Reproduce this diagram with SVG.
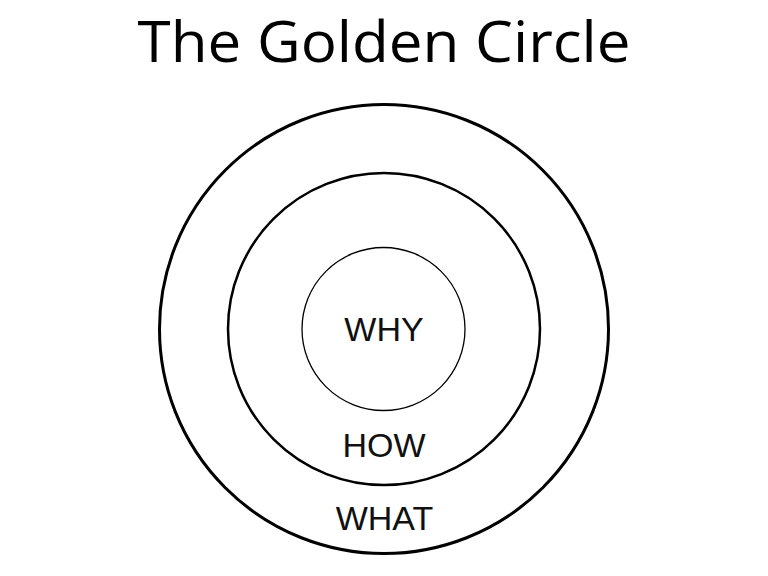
<svg xmlns="http://www.w3.org/2000/svg" width="768" height="576" viewBox="0 0 768 576">
<style>
.c{fill:none;stroke:#000}
.t{font-family:"Liberation Sans",Arial,sans-serif;font-size:34px;fill:#111;text-anchor:middle}
.title{font-family:"Open Sans","Noto Sans",sans-serif;font-size:56px;fill:#000;text-anchor:middle}
</style>
<rect width="768" height="576" fill="#fff"/>
<text class="title" x="384" y="62" textLength="493" lengthAdjust="spacingAndGlyphs">The Golden Circle</text>
<g id="what"><circle class="c" cx="384" cy="329" r="224.5" stroke-width="3"/><text class="t" x="384.5" y="530">WHAT</text></g>
<g id="how"><circle class="c" cx="384" cy="329" r="156" stroke-width="2.5"/><text class="t" x="384" y="457">HOW</text></g>
<g id="why"><circle class="c" cx="383.5" cy="329" r="81.5" stroke-width="1.3"/><text class="t" x="384" y="341">WHY</text></g>
<g id="connectors"/>
</svg>
